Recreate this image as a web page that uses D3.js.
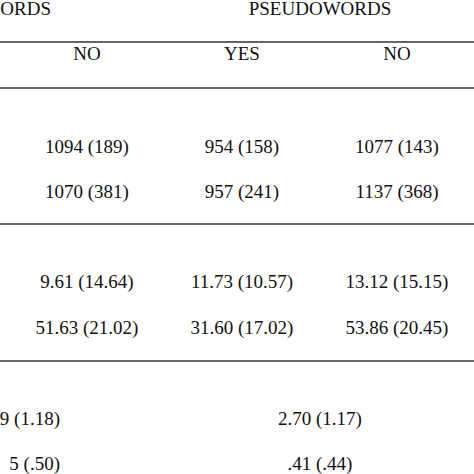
<!DOCTYPE html>
<html><head><meta charset="utf-8">
<script src="https://cdn.jsdelivr.net/npm/d3@7"></script>
<style>body{margin:0;background:#fff} text{font-family:'Liberation Serif','DejaVu Serif',serif;}</style></head>
<body><svg id="c" width="474" height="474"></svg>
<script>
const subCols = ["NO", "YES", "NO"];
const rtRows = [["1094 (189)", "954 (158)", "1077 (143)"], ["1070 (381)", "957 (241)", "1137 (368)"]];
const errRows = [["9.61 (14.64)", "11.73 (10.57)", "13.12 (15.15)"], ["51.63 (21.02)", "31.60 (17.02)", "53.86 (20.45)"]];
const bottomLeft = ["9 (1.18)", "5 (.50)"];
const bottomRight = ["2.70 (1.17)", ".41 (.44)"];
const ruleYs = [42, 88, 224, 361];

const svg = d3.select("#c");
const x = d3.scalePoint().domain([0,1,2]).range([87, 397]);
function txt(xp, yp, t, anchor="middle") {
  svg.append("text").attr("x", xp).attr("y", yp).attr("text-anchor", anchor)
    .attr("font-size", 19).attr("fill", "#111").text(t);
}
ruleYs.forEach(y => svg.append("line").attr("x1",0).attr("x2",474).attr("y1",y).attr("y2",y)
  .attr("stroke","#333").attr("stroke-width",1.5));
txt(51, 15, "ORDS", "end");
txt(320, 15, "PSEUDOWORDS");
subCols.forEach((c,i)=>txt(x(i), 60, c));
rtRows.forEach((r,j)=>r.forEach((v,i)=>txt(x(i), 153+j*45, v)));
errRows.forEach((r,j)=>r.forEach((v,i)=>txt(x(i), 288+j*46, v)));
bottomLeft.forEach((v,j)=>txt(60, 425+j*45, v, "end"));
bottomRight.forEach((v,j)=>txt(320, 425+j*45, v));
</script></body></html>
